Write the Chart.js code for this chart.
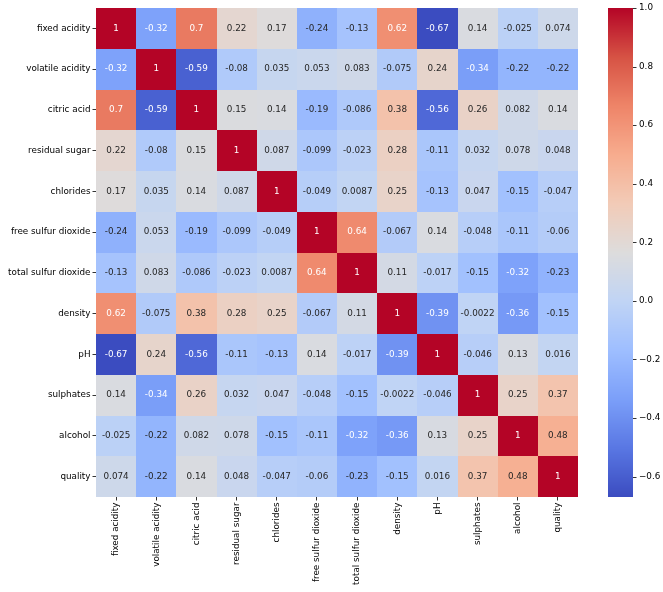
<!DOCTYPE html>
<html>
<head>
<meta charset="utf-8">
<script src="https://cdn.jsdelivr.net/npm/chart.js@4.4.1/dist/chart.umd.min.js"></script>
<style>
  html, body { margin: 0; padding: 0; background: #fff; }
  #wrap { width: 663px; height: 592px; }
</style>
</head>
<body>
<div id="wrap"><canvas id="heatmap" width="663" height="592"></canvas></div>
<script>
// Признаки (строки и столбцы матрицы)
const categories = [
  "fixed acidity", "volatile acidity", "citric acid", "residual sugar",
  "chlorides", "free sulfur dioxide", "total sulfur dioxide", "density",
  "pH", "sulphates", "alcohol", "quality"
];

// Корреляции по строкам
const fixedAcidity     = [1, -0.32, 0.7, 0.22, 0.17, -0.24, -0.13, 0.62, -0.67, 0.14, -0.025, 0.074];
const volatileAcidity  = [-0.32, 1, -0.59, -0.08, 0.035, 0.053, 0.083, -0.075, 0.24, -0.34, -0.22, -0.22];
const citricAcid       = [0.7, -0.59, 1, 0.15, 0.14, -0.19, -0.086, 0.38, -0.56, 0.26, 0.082, 0.14];
const residualSugar    = [0.22, -0.08, 0.15, 1, 0.087, -0.099, -0.023, 0.28, -0.11, 0.032, 0.078, 0.048];
const chlorides        = [0.17, 0.035, 0.14, 0.087, 1, -0.049, 0.0087, 0.25, -0.13, 0.047, -0.15, -0.047];
const freeSulfur       = [-0.24, 0.053, -0.19, -0.099, -0.049, 1, 0.64, -0.067, 0.14, -0.048, -0.11, -0.06];
const totalSulfur      = [-0.13, 0.083, -0.086, -0.023, 0.0087, 0.64, 1, 0.11, -0.017, -0.15, -0.32, -0.23];
const density          = [0.62, -0.075, 0.38, 0.28, 0.25, -0.067, 0.11, 1, -0.39, -0.0022, -0.36, -0.15];
const pH               = [-0.67, 0.24, -0.56, -0.11, -0.13, 0.14, -0.017, -0.39, 1, -0.046, 0.13, 0.016];
const sulphates        = [0.14, -0.34, 0.26, 0.032, 0.047, -0.048, -0.15, -0.0022, -0.046, 1, 0.25, 0.37];
const alcohol          = [-0.025, -0.22, 0.082, 0.078, -0.15, -0.11, -0.32, -0.36, 0.13, 0.25, 1, 0.48];
const quality          = [0.074, -0.22, 0.14, 0.048, -0.047, -0.06, -0.23, -0.15, 0.016, 0.37, 0.48, 1];

const matrix = [
  fixedAcidity, volatileAcidity, citricAcid, residualSugar, chlorides, freeSulfur,
  totalSulfur, density, pH, sulphates, alcohol, quality
];

// Метки шкалы цвета
const colorbarTicks = [-0.6, -0.4, -0.2, 0.0, 0.2, 0.4, 0.6, 0.8, 1.0];

// Палитра coolwarm (шаг 0.1)
const coolwarm = [
  [59, 76, 192], [89, 119, 227], [123, 159, 249], [158, 190, 255], [192, 212, 245],
  [221, 220, 220], [242, 203, 183], [247, 172, 142], [238, 132, 104], [214, 82, 68], [180, 4, 38]
];

const allValues = matrix.flat();
const vmin = Math.min(...allValues);
const vmax = Math.max(...allValues);

function cmap(t) {
  t = Math.min(1, Math.max(0, t));
  const pos = t * (coolwarm.length - 1);
  const i = Math.min(coolwarm.length - 2, Math.floor(pos));
  const f = pos - i;
  const a = coolwarm[i], b = coolwarm[i + 1];
  return [0, 1, 2].map((k) => Math.round(a[k] + (b[k] - a[k]) * f));
}

function colorFor(v) {
  return cmap((v - vmin) / (vmax - vmin));
}

function rgb(c) {
  return `rgb(${c[0]},${c[1]},${c[2]})`;
}

// как в seaborn: светлый/тёмный текст по яркости ячейки
function luminance(c) {
  const lin = c.map((x) => {
    x = x / 255;
    return x <= 0.03928 ? x / 12.92 : Math.pow((x + 0.055) / 1.055, 2.4);
  });
  return 0.2126 * lin[0] + 0.7152 * lin[1] + 0.0722 * lin[2];
}

function fmt(v) {
  return String(Number(v.toPrecision(2)));
}

const FONT = "'DejaVu Sans', sans-serif";
const points = [];
matrix.forEach((row, i) => row.forEach((v, j) => points.push({ x: j, y: i, v })));

const heatmapPlugin = {
  id: "heatmapCells",
  beforeDatasetsDraw(chart) {
    const { ctx, scales } = chart;
    const xs = scales.x, ys = scales.y;
    const cw = (xs.right - xs.left) / categories.length;
    const ch = (ys.bottom - ys.top) / categories.length;
    ctx.save();
    chart.data.datasets[0].data.forEach((p) => {
      const cx = xs.getPixelForValue(p.x);
      const cy = ys.getPixelForValue(p.y);
      const l = Math.round(cx - cw / 2), r = Math.round(cx + cw / 2);
      const t = Math.round(cy - ch / 2), b = Math.round(cy + ch / 2);
      ctx.fillStyle = rgb(colorFor(p.v));
      ctx.fillRect(l, t, r - l, b - t);
    });
    ctx.restore();
  },
  afterDatasetsDraw(chart) {
    const { ctx, scales } = chart;
    ctx.save();
    ctx.font = `8.8px ${FONT}`;
    ctx.textAlign = "center";
    ctx.textBaseline = "middle";
    chart.data.datasets[0].data.forEach((p) => {
      const c = colorFor(p.v);
      ctx.fillStyle = luminance(c) > 0.408 ? "#262626" : "#ffffff";
      ctx.fillText(fmt(p.v), scales.x.getPixelForValue(p.x), scales.y.getPixelForValue(p.y));
    });
    ctx.restore();
  },
  afterDraw(chart) {
    // Шкала цвета
    const { ctx, chartArea, scales } = chart;
    const cb = scales.cb;
    const x0 = chartArea.right + 30, x1 = chartArea.right + 55;
    ctx.save();
    for (let py = Math.floor(cb.top); py < Math.ceil(cb.bottom); py++) {
      const v = cb.getValueForPixel(py + 0.5);
      ctx.fillStyle = rgb(colorFor(v));
      ctx.fillRect(x0, py, x1 - x0, 1);
    }
    ctx.strokeStyle = "#000";
    ctx.lineWidth = 0.8;
    colorbarTicks.forEach((v) => {
      const py = Math.round(cb.getPixelForValue(v)) + 0.5;
      ctx.beginPath();
      ctx.moveTo(x1, py);
      ctx.lineTo(x1 + 3.5, py);
      ctx.stroke();
    });
    ctx.restore();
  },
};

const tickFont = { family: FONT, size: 8.8 };

new Chart(document.getElementById("heatmap"), {
  type: "scatter",
  data: {
    datasets: [{ data: points, pointRadius: 0, pointHoverRadius: 0 }],
  },
  options: {
    responsive: false,
    animation: false,
    events: [],
    layout: { padding: { top: 8, left: 0, right: 0, bottom: 0 } },
    plugins: { legend: { display: false }, tooltip: { enabled: false } },
    scales: {
      x: {
        type: "category",
        labels: categories,
        offset: true,
        position: "bottom",
        border: { display: false },
        grid: { offset: false, drawOnChartArea: false, drawTicks: true, tickLength: 3.5, color: "#000", lineWidth: 0.8 },
        ticks: { autoSkip: false, maxRotation: 90, minRotation: 90, padding: 2, color: "#000", font: tickFont },
        afterFit(scale) { scale.height = 95; },
      },
      y: {
        type: "category",
        labels: categories,
        offset: true,
        position: "left",
        border: { display: false },
        grid: { offset: false, drawOnChartArea: false, drawTicks: true, tickLength: 3.5, color: "#000", lineWidth: 0.8 },
        ticks: { autoSkip: false, padding: 2, color: "#000", font: tickFont },
        afterFit(scale) { scale.width = 96; },
      },
      cb: {
        type: "linear",
        axis: "y",
        position: "right",
        min: vmin,
        max: vmax,
        border: { display: false },
        // линии сетки скрыты, длина штриха только сдвигает подписи вправо
        grid: { display: false, drawTicks: true, tickLength: 59 },
        ticks: {
          padding: 2,
          color: "#000",
          font: tickFont,
          callback: (v) => (v < 0 ? "\u2212" : "") + Math.abs(v).toFixed(1),
        },
        afterBuildTicks(scale) { scale.ticks = colorbarTicks.map((v) => ({ value: v })); },
        afterFit(scale) { scale.width = 85; },
      },
    },
  },
  plugins: [heatmapPlugin],
});
</script>
</body>
</html>
